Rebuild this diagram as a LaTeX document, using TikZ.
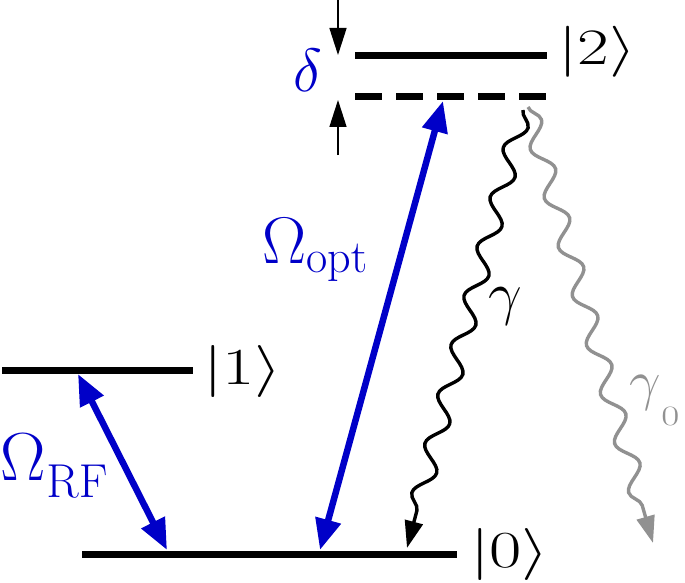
\RequirePackage{fix-cm}
\documentclass[tikz,border=0pt]{standalone}
\usepackage{graphicx}
\usetikzlibrary{arrows.meta,decorations.pathmorphing}
\definecolor{myblue}{RGB}{0,0,200}
\definecolor{mygray}{RGB}{145,145,145}
\newcommand{\setfs}[1]{\fontsize{#1}{#1}\selectfont}
\begin{document}
\begin{tikzpicture}[x=1pt,y=-1pt,
  level/.style={line width=7pt},
  lbl/.style={inner sep=0pt, outer sep=0pt, anchor=base west},
  coupling/.style={myblue, line width=6.5pt, {Triangle[length=31pt,width=25pt]}-{Triangle[length=31pt,width=25pt]}},
  detarrow/.style={line width=1.5pt, -{Triangle[length=27pt,width=17pt]}},
  decay/.style={line width=3.4pt, -{Triangle[length=27pt,width=18pt]}, decorate,
    decoration={snake, amplitude=9.5pt, segment length=51pt, post length=14pt}},
]
\useasboundingbox (0,0) rectangle (685,583);

% energy levels
\coordinate (l2a) at (355,56);   \coordinate (l2b) at (547,56);
\coordinate (lda) at (355,96.5); \coordinate (ldb) at (547,96.5);
\coordinate (l1a) at (2,370);    \coordinate (l1b) at (193,370);
\coordinate (l0a) at (82,554);   \coordinate (l0b) at (457,554);
\draw[level] (l2a) -- (l2b);
\draw[level, dash pattern=on 27pt off 14pt] (lda) -- (ldb);
\draw[level] (l1a) -- (l1b);
\draw[level] (l0a) -- (l0b);

% kets
\node[lbl] (k2) at (558.4,65) {\setfs{51}\scalebox{1.35}[1]{$|2\rangle$}};
\node[lbl] (k1) at (203.3,384) {\setfs{52}\scalebox{1.35}[1]{$|1\rangle$}};
\node[lbl] (k0) at (470,567) {\setfs{52}\scalebox{1.35}[1]{$|0\rangle$}};

% detuning
\coordinate (dt0) at (338,0);  \coordinate (dt1) at (338,55);
\coordinate (db0) at (338,155); \coordinate (db1) at (338,100);
\draw[detarrow] (dt0) -- (dt1);
\draw[detarrow] (db0) -- (db1);
\node[lbl, text=myblue] (dl) at (293,92) {\setfs{61}$\delta$};

% couplings
\coordinate (rf1) at (78,374);  \coordinate (rf0) at (167,550);
\coordinate (op2) at (443,101); \coordinate (op0) at (320,550);
\draw[coupling] (rf1) -- (rf0);
\draw[coupling] (op2) -- (op0);
\node[lbl, text=myblue] (orf) at (1,480) {\setfs{68}$\Omega_{\lower7pt\hbox{$\scriptstyle\mathrm{RF}$}}$};
\node[lbl, text=myblue] (oop) at (262,263) {\setfs{66}$\Omega_{\mathrm{opt}}$};

% decays
\coordinate (g0s) at (523,110); \coordinate (g0e) at (407,548);
\coordinate (g1s) at (528,107); \coordinate (g1e) at (653,543);
\draw[decay] (g0s) -- (g0e);
\draw[decay, mygray] (g1s) -- (g1e);
\node[lbl] (gl) at (488,313) {\setfs{60}$\gamma$};
\node[lbl, text=mygray] (gl0) at (629,399) {\setfs{56}$\gamma$\kern1pt\lower26pt\hbox{\scalebox{1.4}[1]{\setfs{28}0}}};
\end{tikzpicture}
\end{document}
